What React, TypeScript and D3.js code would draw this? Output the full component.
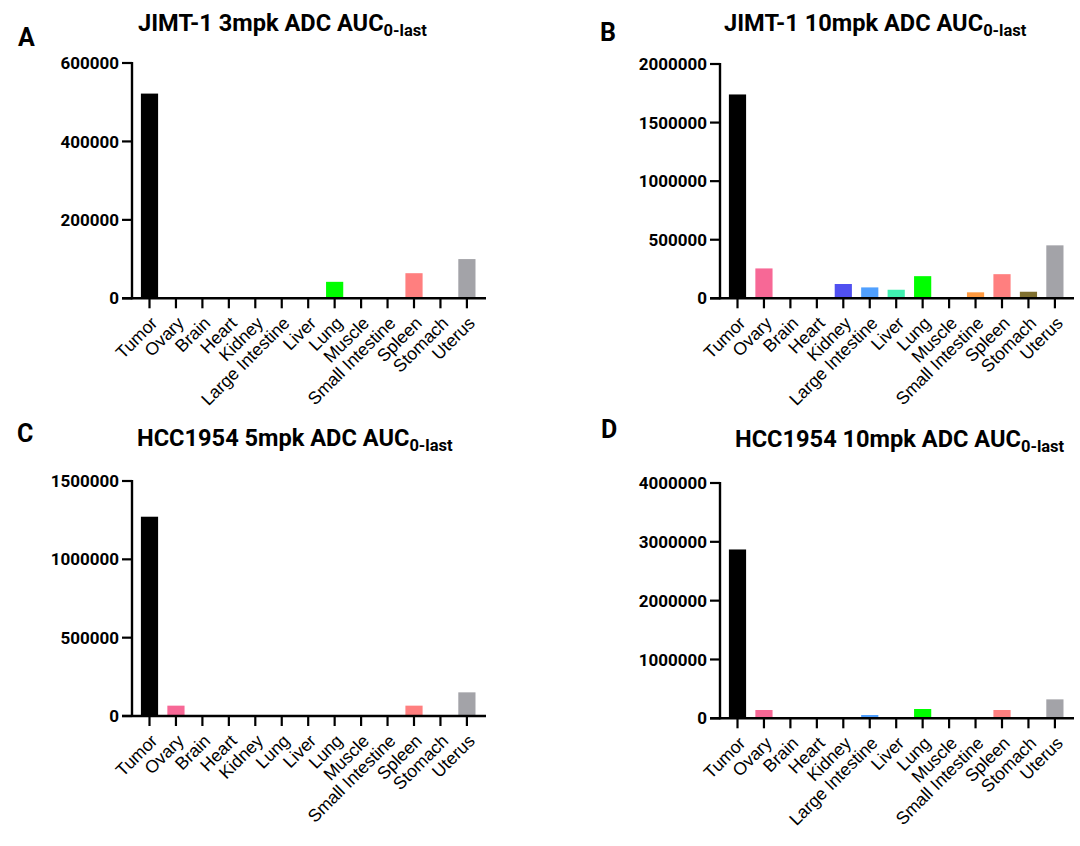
import React from "react";
import * as d3 from "d3";

const organsStd = ["Tumor", "Ovary", "Brain", "Heart", "Kidney", "Large Intestine", "Liver", "Lung", "Muscle", "Small Intestine", "Spleen", "Stomach", "Uterus"];
const organsC = ["Tumor", "Ovary", "Brain", "Heart", "Kidney", "Lung", "Liver", "Lung", "Muscle", "Small Intestine", "Spleen", "Stomach", "Uterus"];

const organColors = ["#000000", "#f76896", "#c0c0c0", "#c0c0c0", "#5050f0", "#50a0ff", "#40f0b0", "#00ff00", "#c0c0c0", "#ff9a40", "#ff7f7f", "#807030", "#a3a3a8"];

const valuesA = [522000, 0, 0, 0, 0, 0, 0, 42000, 0, 0, 64000, 0, 100000];
const valuesB = [1740000, 255000, 0, 0, 122000, 93000, 73000, 189000, 0, 51000, 206000, 56000, 452000];
const valuesC = [1272000, 66000, 0, 0, 0, 0, 0, 0, 0, 0, 66000, 0, 151000];
const valuesD = [2870000, 141000, 0, 0, 0, 56000, 0, 158000, 0, 0, 141000, 0, 322000];

const ticksA = [0, 200000, 400000, 600000];
const ticksB = [0, 500000, 1000000, 1500000, 2000000];
const ticksC = [0, 500000, 1000000, 1500000];
const ticksD = [0, 1000000, 2000000, 3000000, 4000000];

const titlesMain = ["JIMT-1 3mpk ADC AUC", "JIMT-1 10mpk ADC AUC", "HCC1954 5mpk ADC AUC", "HCC1954 10mpk ADC AUC"];
const titleSub = "0-last";
const panelLetters = ["A", "B", "C", "D"];

type Panel = {
  letter: string;
  letterX: number;
  letterY: number;
  title: string;
  titleX: number;
  titleY: number;
  axisX: number;
  zeroY: number;
  topY: number;
  ticks: number[];
  cats: string[];
  values: number[];
};

const panels: Panel[] = [
  { letter: panelLetters[0], letterX: 18, letterY: 46, title: titlesMain[0], titleX: 138, titleY: 31, axisX: 132, zeroY: 298.3, topY: 63, ticks: ticksA, cats: organsStd, values: valuesA },
  { letter: panelLetters[1], letterX: 600, letterY: 41, title: titlesMain[1], titleX: 724, titleY: 31, axisX: 720, zeroY: 298.3, topY: 64, ticks: ticksB, cats: organsStd, values: valuesB },
  { letter: panelLetters[2], letterX: 17, letterY: 442, title: titlesMain[2], titleX: 137, titleY: 446, axisX: 132, zeroY: 716, topY: 481, ticks: ticksC, cats: organsC, values: valuesC },
  { letter: panelLetters[3], letterX: 601, letterY: 438, title: titlesMain[3], titleX: 735, titleY: 447, axisX: 720, zeroY: 718.3, topY: 483, ticks: ticksD, cats: organsStd, values: valuesD },
];

const boldFont = "Roboto, 'Liberation Sans', Arial, sans-serif";
const labelFont = "'Liberation Sans', Arial, sans-serif";

function BarPanel({ p }: { p: Panel }) {
  const step = 26.45;
  const firstCenter = p.axisX + 17.5;
  const n = p.cats.length;
  const x = d3
    .scaleBand<number>()
    .domain(d3.range(n))
    .range([firstCenter - step / 2, firstCenter - step / 2 + step * n])
    .paddingInner(0.35)
    .paddingOuter(0.175);
  const y = d3
    .scaleLinear()
    .domain([0, p.ticks[p.ticks.length - 1]])
    .range([p.zeroY, p.topY]);
  const axisEnd = p.axisX + 354;
  return (
    <g>
      <text x={p.letterX} y={p.letterY} fontFamily={boldFont} fontWeight="bold" fontSize={25} fill="#000">
        {p.letter}
      </text>
      <text x={p.titleX} y={p.titleY} fontFamily={boldFont} fontWeight="bold" fontSize={23.6} fill="#000">
        {p.title}
        <tspan fontSize={16.5} dy={5}>{titleSub}</tspan>
      </text>
      {p.values.map((v, i) =>
        v > 0 ? (
          <rect
            key={i}
            x={x(i)}
            y={y(v)}
            width={x.bandwidth()}
            height={y(0) - y(v)}
            fill={organColors[i]}
          />
        ) : null
      )}
      <line x1={p.axisX} x2={p.axisX} y1={y(p.ticks[p.ticks.length - 1]) - 1} y2={p.zeroY + 1} stroke="#000" strokeWidth={2.4} />
      <line x1={p.axisX - 10} x2={axisEnd} y1={p.zeroY} y2={p.zeroY} stroke="#000" strokeWidth={2.4} />
      {p.ticks.map((t) => (
        <g key={t}>
          <line x1={p.axisX - 10} x2={p.axisX} y1={y(t)} y2={y(t)} stroke="#000" strokeWidth={2.2} />
          <text
            x={p.axisX - 13}
            y={y(t)}
            dy="0.36em"
            textAnchor="end"
            fontFamily={boldFont}
            fontWeight="bold"
            fontSize={17}
            fill="#000"
          >
            {String(t)}
          </text>
        </g>
      ))}
      {p.cats.map((c, i) => {
        const cx = (x(i) as number) + x.bandwidth() / 2;
        return (
          <g key={i}>
            <line x1={cx} x2={cx} y1={p.zeroY} y2={p.zeroY + 10} stroke="#000" strokeWidth={2.2} />
            <text
              transform={`translate(${cx + 9},${p.zeroY + 26}) rotate(-45)`}
              textAnchor="end"
              fontFamily={labelFont}
              fontSize={17.6}
              fill="#000"
            >
              {c}
            </text>
          </g>
        );
      })}
    </g>
  );
}

export default function App() {
  return (
    <svg
      width={1080}
      height={846}
      viewBox="0 0 1080 846"
      style={{ position: "absolute", left: 0, top: 0, display: "block", background: "#fff" }}
    >
      <rect x={0} y={0} width={1080} height={846} fill="#fff" />
      {panels.map((p, i) => (
        <BarPanel key={i} p={p} />
      ))}
    </svg>
  );
}
